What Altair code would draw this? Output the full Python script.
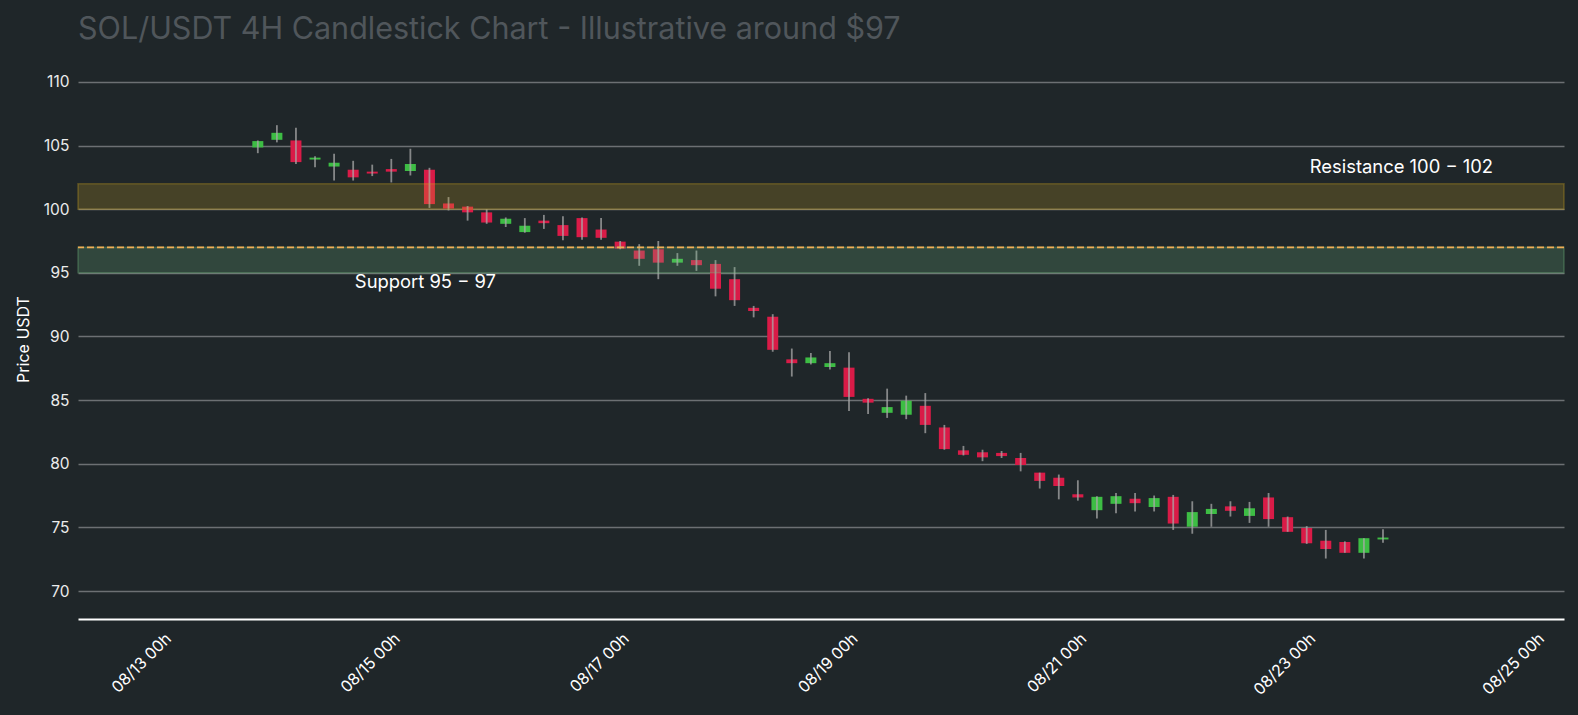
import altair as alt
import pandas as pd

# ---------------- data ----------------
first_candle = "2024-08-13 20:00"
opens = [104.85, 105.45, 105.4, 103.9, 103.35, 103.1, 102.95, 103.15, 103.0, 103.1,
         100.45, 100.2, 99.75, 98.85, 98.2, 99.1, 98.75, 99.3, 98.4, 97.45,
         96.75, 96.85, 95.8, 96.0, 95.7, 94.5, 92.25, 91.55, 88.2, 87.9,
         87.6, 87.55, 85.1, 84.0, 83.85, 84.55, 82.85, 81.05, 80.9, 80.85,
         80.45, 79.3, 78.9, 77.6, 76.35, 76.85, 77.25, 76.6, 77.4, 75.05,
         76.05, 76.65, 75.9, 77.35, 75.8, 74.95, 73.95, 73.85, 73.0, 74.05]
highs = [105.4, 106.6, 106.4, 104.15, 104.35, 103.8, 103.5, 103.95, 104.75, 103.25,
         100.95, 100.25, 100.0, 99.35, 99.3, 99.55, 99.45, 99.35, 99.3, 97.5,
         97.25, 97.5, 96.55, 96.75, 96.0, 95.45, 92.4, 91.75, 89.05, 88.7,
         88.85, 88.75, 85.15, 85.9, 85.35, 85.55, 83.05, 81.4, 81.1, 81.0,
         80.85, 79.3, 79.15, 78.7, 77.45, 77.7, 77.7, 77.5, 77.55, 77.05,
         76.85, 77.05, 77.0, 77.7, 75.85, 75.1, 74.8, 73.9, 74.15, 74.85]
lows = [104.4, 105.25, 103.55, 103.3, 102.25, 102.25, 102.6, 102.1, 102.65, 100.1,
        99.9, 99.1, 98.85, 98.6, 98.15, 98.45, 97.55, 97.6, 97.6, 96.85,
        95.55, 94.5, 95.55, 95.15, 93.15, 92.4, 91.5, 88.8, 86.85, 87.8,
        87.4, 84.15, 83.9, 83.6, 83.5, 82.4, 81.1, 80.65, 80.2, 80.45,
        79.4, 78.05, 77.2, 77.1, 75.7, 76.1, 76.25, 76.25, 74.8, 74.5,
        75.05, 75.85, 75.35, 75.05, 74.65, 73.7, 72.55, 73.0, 72.55, 73.8]
closes = [105.35, 106.0, 103.7, 104.05, 103.65, 102.5, 102.8, 102.95, 103.55, 100.4,
          100.05, 99.75, 98.95, 99.25, 98.7, 98.9, 97.9, 97.8, 97.75, 96.9,
          96.1, 95.8, 96.1, 95.6, 93.75, 92.85, 92.0, 88.95, 87.9, 88.35,
          87.9, 85.25, 84.8, 84.45, 84.95, 83.05, 81.15, 80.7, 80.5, 80.6,
          79.9, 78.65, 78.25, 77.35, 77.4, 77.45, 76.9, 77.3, 75.3, 76.2,
          76.45, 76.3, 76.5, 75.65, 74.65, 73.75, 73.3, 73.0, 74.15, 74.2]

zone_names = ["Resistance", "Support"]
zone_low = [100, 95]
zone_high = [102, 97]
support_line = [97]

label_texts = ["Resistance 100 \u2212 102", "Support 95 \u2212 97"]
label_times = ["2024-08-23T00:38:00", "2024-08-14T16:21:00"]
label_values = [102.83, 93.79]

tick_days = [13, 15, 17, 19, 21, 23, 25]
y_ticks = [70, 75, 80, 85, 90, 95, 100, 105, 110]

# ---------------- tables ----------------
times = pd.date_range(first_candle, periods=len(opens), freq="4h")
candles = pd.DataFrame({
    "time": times.strftime("%Y-%m-%dT%H:%M:%S"),
    "open": opens, "high": highs, "low": lows, "close": closes,
})
candles["direction"] = ["up" if c >= o else "down" for o, c in zip(opens, closes)]

zones = pd.DataFrame({"zone": zone_names, "low": zone_low, "high": zone_high})
sline = pd.DataFrame({"level": support_line})
labels = pd.DataFrame({"time": label_times, "value": label_values, "text": label_texts})

FONT = "Inter"
BG = "#1f2629"
x_scale = alt.Scale(domain=[
    alt.DateTime(year=2024, month=8, date=12, hours=7, minutes=20),
    alt.DateTime(year=2024, month=8, date=25, hours=4, minutes=55),
])
y_scale = alt.Scale(domain=[67.8, 111.8], nice=False, zero=False)

x_axis = alt.Axis(
    values=[alt.DateTime(year=2024, month=8, date=d, hours=0) for d in tick_days],
    format="%m/%d %Hh", labelAngle=-45, title=None, grid=False,
)
y_axis = alt.Axis(values=y_ticks, title="Price USDT", grid=True)

bodies = alt.Chart(candles).mark_bar(size=11).encode(
    x=alt.X("time:T", scale=x_scale, axis=x_axis),
    y=alt.Y("open:Q", scale=y_scale, axis=y_axis),
    y2="close:Q",
    color=alt.Color("direction:N", legend=None,
                    scale=alt.Scale(domain=["up", "down"], range=["#3dbd44", "#d91b47"])),
)

wicks = alt.Chart(candles).mark_rule(color="#a8a8a8", opacity=0.75, strokeWidth=1.8).encode(
    x="time:T",
    y="low:Q",
    y2="high:Q",
)

zone_rects = alt.Chart(zones).mark_rect(
    fillOpacity=0.22, strokeOpacity=0.3, strokeWidth=1.6
).encode(
    y="low:Q",
    y2="high:Q",
    fill=alt.Fill("zone:N", legend=None,
                  scale=alt.Scale(domain=zone_names, range=["#d2a71e", "#74c082"])),
    stroke=alt.Stroke("zone:N", legend=None,
                      scale=alt.Scale(domain=zone_names, range=["#d2a71e", "#74c082"])),
)

dash = alt.Chart(sline).mark_rule(color="#f2ad55", strokeWidth=1.6, strokeDash=[7, 3]).encode(
    y="level:Q",
)

texts = alt.Chart(labels).mark_text(
    align="left", baseline="alphabetic", fontSize=18.4, font=FONT, color="#ffffff"
).encode(
    x="time:T",
    y="value:Q",
    text="text:N",
)

chart = alt.layer(bodies, wicks, zone_rects, dash, texts).properties(
    width=1486, height=560,
    title=alt.TitleParams(
        "SOL/USDT 4H Candlestick Chart - Illustrative around $97",
        anchor="start", frame="group", fontSize=30.5, color="#50565b", font=FONT,
        fontWeight="normal", offset=14,
    ),
    autosize=alt.AutoSizeParams(type="none"),
    padding={"left": 70, "top": 51, "right": 6, "bottom": 88},
).resolve_scale(color="independent").configure(
    background=BG,
).configure_view(stroke=None).configure_axisX(
    ticks=False, tickSize=0, domainColor="#ffffff", domainWidth=2,
    labelColor="#ffffff", labelFontSize=16, labelFont=FONT, labelPadding=11,
).configure_axisY(
    gridColor="#6c7073", gridWidth=1.6, domain=False, ticks=False, tickSize=0,
    labelColor="#ececec", labelFontSize=15.5, labelFont=FONT, labelPadding=9,
    titleColor="#ffffff", titleFontSize=16, titleFont=FONT, titleFontWeight="normal",
    titlePadding=12,
)

chart.save("out.html", embed_options={
    "renderer": "svg", "actions": False,
    "defaultStyle": "html, body { background: " + BG + "; }",
})
